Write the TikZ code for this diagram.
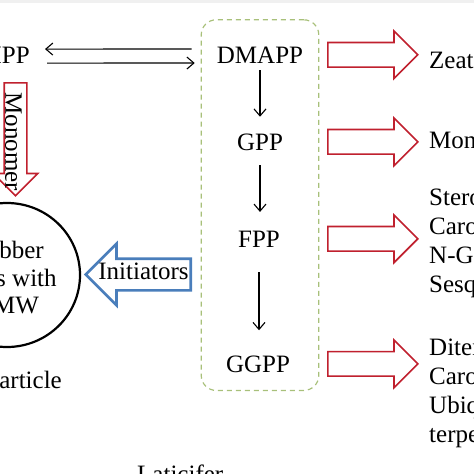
\documentclass[tikz,border=0pt]{standalone}
\usepackage{fontspec}
\setmainfont{Liberation Serif}
\usetikzlibrary{shapes.geometric,shapes.arrows,arrows.meta,fit}
\definecolor{arrowred}{HTML}{C0202E}
\definecolor{initblue}{HTML}{4A7EBB}
\definecolor{latgreen}{HTML}{A8C07A}
\tikzstyle{txt} = [inner sep=0pt, font=\fontsize{25}{29}\selectfont]
\tikzstyle{prod} = [txt, align=left, anchor=base west]
\tikzstyle{conv} = [-{Straight Barb[length=7pt,width=12pt]}, line width=1.1pt]
\tikzstyle{outarrow} = [single arrow, draw=arrowred, line width=1.6pt, fill=white, inner xsep=0pt, inner ysep=11.5pt, single arrow head extend=11.5pt, single arrow tip angle=90, minimum height=90pt, anchor=tail]
\tikzstyle{latbox} = [draw=latgreen, line width=1.2pt, dash pattern=on 5pt off 4pt, rounded corners=15pt]

\begin{document}
\begin{tikzpicture}[x=1pt, y=-1pt]
	\useasboundingbox (0,0) rectangle (474,474);
	\clip (0,0) rectangle (474,474);
	\fill[gray!12] (0,0) rectangle (474,3);
	\node[txt, anchor=base east] (ipp) at (30,63) {IPP};
	\node[txt, anchor=base] (dmapp) at (260,63) {DMAPP};
	\node[txt, anchor=base] (gpp) at (260,150) {GPP};
	\node[txt, anchor=base] (fpp) at (259,247) {FPP};
	\node[txt, anchor=base] (ggpp) at (258,372) {GGPP};
	\node[latbox, fit=(dmapp)(ggpp), inner xsep=15.5pt, inner ysep=22.25pt, yshift=4.25pt] (lat) {};
	\draw[conv, shorten <=25pt, shorten >=15pt] ([yshift=5.75pt]dmapp.west) -- ([yshift=5.75pt]ipp.east);
	\draw[conv, shorten <=17pt, shorten >=22pt] ([yshift=-8.25pt]ipp.east) -- ([yshift=-8.25pt]dmapp.west);
	\draw[conv, shorten <=7pt, shorten >=16.5pt] (dmapp.south) -- (dmapp.south |- gpp.north);
	\draw[conv, shorten <=15pt, shorten >=18.5pt] (gpp.south) -- (gpp.south |- fpp.north);
	\draw[conv, shorten <=25pt, shorten >=25pt] (fpp.south) -- (fpp.south |- ggpp.north);

	\coordinate (col) at (327,0);
	\node[outarrow] (tozea) at (dmapp -| col) {};
	\node[outarrow] (tomono) at (gpp -| col) {};
	\node[outarrow] (tofpp) at (fpp -| col) {};
	\node[outarrow] (toggpp) at (ggpp -| col) {};
	\node[prod] (zea) at (429,68) {Zeatin};
	\node[prod] (mono) at (429,148) {Monoterpenes};
	\node[prod] (fppout) at (429,292) {Sterols\\Carotenoids\\N-Glycans\\Sesquiterpenes};
	\node[prod] (ggppout) at (429,442) {Diterpenes\\Carotenoids\\Ubiquinone\\terpenes};

	\node[draw, ellipse, line width=2.2pt, minimum width=146pt, minimum height=144pt, inner sep=0pt] (rp) at (7,275) {};
	\node[txt, align=center, font=\fontsize{25}{27.5}\selectfont] (rptxt) at ([yshift=-3pt]rp.center) {Rubber\\units with\\HMW};
	\node[txt, anchor=base east] (rplbl) at (62,388) {Rubber particle};
	\node[outarrow, rotate=-90, minimum height=113pt, inner ysep=10.5pt, single arrow head extend=11pt] (monarr) at (15.5,82) {};
	\node[txt, rotate=-90] (monlbl) at (13.5,142) {Monomer};
	\node[single arrow, draw=initblue, line width=2.6pt, fill=white, rotate=180, anchor=tail, inner xsep=0pt, inner ysep=14.5pt, single arrow head extend=15pt, single arrow tip angle=90, minimum height=105pt] (iniarr) at (192,274.5) {};
	\node[txt, anchor=base] (inilbl) at (143.5,279) {Initiators};
	\node[txt, anchor=base west] (lat) at (137,482) {Laticifer};
\end{tikzpicture}
\end{document}
